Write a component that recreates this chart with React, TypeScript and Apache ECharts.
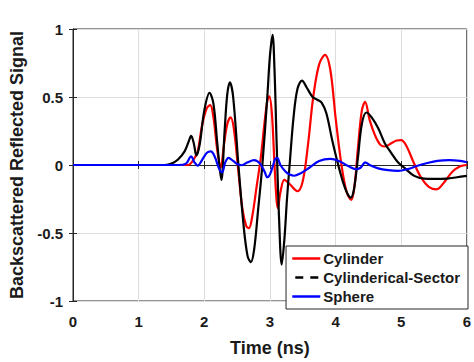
import React, { useEffect, useRef } from "react";
import * as echarts from "echarts";

const seriesNames = ["Cylinder", "Cylinderical-Sector", "Sphere"];
const xTicks = [0, 1, 2, 3, 4, 5, 6];
const yTicks = [-1, -0.5, 0, 0.5, 1];

const cylinder: [number, number][] = [
  [0, 0], [1.0, 0], [1.75, 0], [1.85, 0.05], [1.9, 0.1], [1.97, 0.3], [2.04, 0.42], [2.09, 0.44],
  [2.14, 0.35], [2.2, 0.1], [2.25, -0.02], [2.3, 0.15], [2.35, 0.3], [2.4, 0.35], [2.45, 0.27],
  [2.52, -0.05], [2.58, -0.32], [2.64, -0.45], [2.68, -0.464], [2.73, -0.38], [2.8, -0.15],
  [2.86, 0.05], [2.92, 0.32], [2.96, 0.47], [2.99, 0.505], [3.03, 0.38], [3.07, 0.0], [3.1, -0.25],
  [3.12, -0.317], [3.16, -0.2], [3.22, -0.11], [3.3, -0.14], [3.42, -0.193], [3.5, -0.12],
  [3.58, 0.15], [3.66, 0.5], [3.75, 0.74], [3.84, 0.81], [3.92, 0.7], [4.0, 0.35], [4.09, 0.0],
  [4.17, -0.2], [4.24, -0.257], [4.29, -0.15], [4.34, 0.12], [4.4, 0.4], [4.45, 0.464], [4.52, 0.33],
  [4.6, 0.22], [4.68, 0.15], [4.75, 0.136], [4.85, 0.16], [4.93, 0.18], [5.0, 0.183], [5.08, 0.14],
  [5.18, 0.03], [5.3, -0.09], [5.42, -0.16], [5.54, -0.179], [5.65, -0.13], [5.78, -0.05],
  [5.9, -0.01], [6.0, 0.0],
];

const sector: [number, number][] = [
  [0, 0], [1.0, 0], [1.4, 0.0], [1.5, 0.01], [1.6, 0.04], [1.7, 0.1], [1.76, 0.17], [1.8, 0.214],
  [1.84, 0.16], [1.88, 0.07], [1.93, 0.15], [2.0, 0.4], [2.08, 0.53], [2.14, 0.45], [2.2, 0.15],
  [2.26, -0.11], [2.31, 0.25], [2.35, 0.52], [2.39, 0.607], [2.44, 0.5], [2.52, 0.0], [2.6, -0.45],
  [2.66, -0.67], [2.71, -0.714], [2.76, -0.62], [2.82, -0.33], [2.885, 0.0], [2.96, 0.5], [3.0, 0.8],
  [3.04, 0.957], [3.07, 0.7], [3.1, 0.2], [3.14, -0.4], [3.18, -0.733], [3.22, -0.55], [3.26, -0.25],
  [3.3, 0.0], [3.36, 0.35], [3.42, 0.56], [3.49, 0.62], [3.56, 0.57], [3.65, 0.5], [3.72, 0.48],
  [3.79, 0.457], [3.86, 0.38], [3.95, 0.18], [4.03, 0.02], [4.11, -0.12], [4.18, -0.21], [4.23, -0.24],
  [4.28, -0.18], [4.34, 0.05], [4.4, 0.3], [4.47, 0.386], [4.55, 0.35], [4.65, 0.27], [4.75, 0.16],
  [4.85, 0.088], [4.95, 0.02], [5.07, -0.03], [5.2, -0.08], [5.35, -0.1], [5.5, -0.102], [5.7, -0.1],
  [5.85, -0.09], [6.0, -0.08],
];

const sphere: [number, number][] = [
  [0, 0], [1.0, 0], [1.6, 0], [1.72, 0.01], [1.8, 0.064], [1.85, 0.02], [1.9, -0.005], [1.97, 0.04],
  [2.04, 0.09], [2.1, 0.1], [2.16, 0.06], [2.22, -0.02], [2.27, -0.055], [2.32, 0.02], [2.37, 0.052],
  [2.44, 0.03], [2.51, 0.005], [2.57, -0.002], [2.66, 0.02], [2.76, 0.036], [2.85, 0.01], [2.92, -0.05],
  [2.96, -0.09], [3.0, -0.07], [3.05, 0.0], [3.08, 0.045], [3.11, 0.052], [3.16, 0.0], [3.24, -0.05],
  [3.3, -0.07], [3.37, -0.079], [3.47, -0.06], [3.6, -0.02], [3.75, 0.03], [3.92, 0.045], [4.05, 0.03],
  [4.2, -0.01], [4.31, -0.031], [4.38, -0.02], [4.42, 0.005], [4.45, 0.02], [4.52, 0.0], [4.65, -0.025],
  [4.8, -0.038], [4.95, -0.043], [5.1, -0.03], [5.25, -0.005], [5.4, 0.015], [5.55, 0.03], [5.73, 0.036],
  [5.9, 0.03], [6.0, 0.02],
];

const colors = ["#ff0000", "#000000", "#0000ff"];
const FONT = "'Liberation Sans', Arial, sans-serif";

export default function App() {
  const ref = useRef<HTMLDivElement>(null);
  useEffect(() => {
    if (!ref.current) return;
    const chart = echarts.init(ref.current, null, { renderer: "svg" });
    const axisCommon = {
      min: 0,
      max: 6,
      interval: 1,
    };
    const hiddenSymbol = { color: "rgba(0,0,0,0)", borderColor: "rgba(0,0,0,0)", borderWidth: 0, opacity: 0 };
    chart.setOption({
      animation: false,
      grid: {
        left: 61,
        right: 6,
        top: 29,
        bottom: 53,
        show: true,
        borderColor: "#262626",
        borderWidth: 1,
        backgroundColor: "#ffffff",
      },
      legend: {
        orient: "vertical",
        right: 6,
        bottom: 53,
        padding: [5, 8, 5, 5],
        itemGap: 4,
        itemWidth: 28,
        itemHeight: 14,
        backgroundColor: "#ffffff",
        borderColor: "#262626",
        borderWidth: 1,
        itemStyle: hiddenSymbol,
        textStyle: { fontFamily: FONT, fontWeight: "bold", fontSize: 15, color: "#1a1a1a", padding: [0, 0, 0, -2] },
        data: [
          { name: seriesNames[0], itemStyle: hiddenSymbol, lineStyle: { width: 2.5 } },
          { name: seriesNames[1], itemStyle: hiddenSymbol, lineStyle: { type: [8, 7], dashOffset: -3, width: 2.5 } },
          { name: seriesNames[2], itemStyle: hiddenSymbol, lineStyle: { width: 2.5 } },
        ],
      },
      xAxis: [
        {
          type: "value",
          ...axisCommon,
          name: "Time (ns)",
          nameLocation: "middle",
          nameGap: 38,
          nameTextStyle: { fontFamily: FONT, fontWeight: "bold", fontSize: 18, color: "#1a1a1a" },
          axisLine: { show: true, lineStyle: { color: "#262626", width: 1 } },
          axisTick: { show: true, inside: true, length: 4, lineStyle: { color: "#262626" } },
          axisLabel: {
            margin: 13,
            fontFamily: FONT,
            fontWeight: "bold",
            fontSize: 15,
            color: "#1a1a1a",
            formatter: (v: number) => (xTicks.includes(v) ? String(v) : ""),
          },
          splitLine: { show: true, lineStyle: { color: "#dedede", width: 1 } },
        },
        {
          type: "value",
          ...axisCommon,
          position: "top",
          axisLine: { show: true, lineStyle: { color: "#262626", width: 1 } },
          axisTick: { show: true, inside: true, length: 4, lineStyle: { color: "#262626" } },
          axisLabel: { show: false },
          splitLine: { show: false },
        },
      ],
      yAxis: [
        {
          type: "value",
          min: -1,
          max: 1,
          interval: 0.5,
          name: "Backscattered Reflected Signal",
          nameLocation: "middle",
          nameGap: 47,
          nameTextStyle: { fontFamily: FONT, fontWeight: "bold", fontSize: 18, color: "#1a1a1a" },
          axisLine: { show: true, lineStyle: { color: "#262626", width: 1 } },
          axisTick: { show: true, inside: true, length: 4, lineStyle: { color: "#262626" } },
          axisLabel: {
            margin: 10,
            fontFamily: FONT,
            fontWeight: "bold",
            fontSize: 15,
            color: "#1a1a1a",
            formatter: (v: number) => (yTicks.includes(v) ? String(v) : ""),
          },
          splitLine: { show: true, lineStyle: { color: "#dedede", width: 1 } },
        },
        {
          type: "value",
          min: -1,
          max: 1,
          interval: 0.5,
          position: "right",
          axisLine: { show: true, lineStyle: { color: "#262626", width: 1 } },
          axisTick: { show: true, inside: true, length: 4, lineStyle: { color: "#262626" } },
          axisLabel: { show: false },
          splitLine: { show: false },
        },
      ],
      series: [
        { name: seriesNames[0], type: "line", data: cylinder, smooth: 0.35, symbol: "none", lineStyle: { color: colors[0], width: 2.2 }, itemStyle: { color: colors[0] } },
        { name: seriesNames[1], type: "line", data: sector, smooth: 0.35, symbol: "none", lineStyle: { color: colors[1], width: 2.2 }, itemStyle: { color: colors[1] } },
        { name: seriesNames[2], type: "line", data: sphere, smooth: 0.35, symbol: "none", lineStyle: { color: colors[2], width: 2.2 }, itemStyle: { color: colors[2] } },
      ],
    });
    return () => chart.dispose();
  }, []);
  return <div ref={ref} style={{ width: 474, height: 362, position: "absolute", left: 0, top: 0 }} />;
}
